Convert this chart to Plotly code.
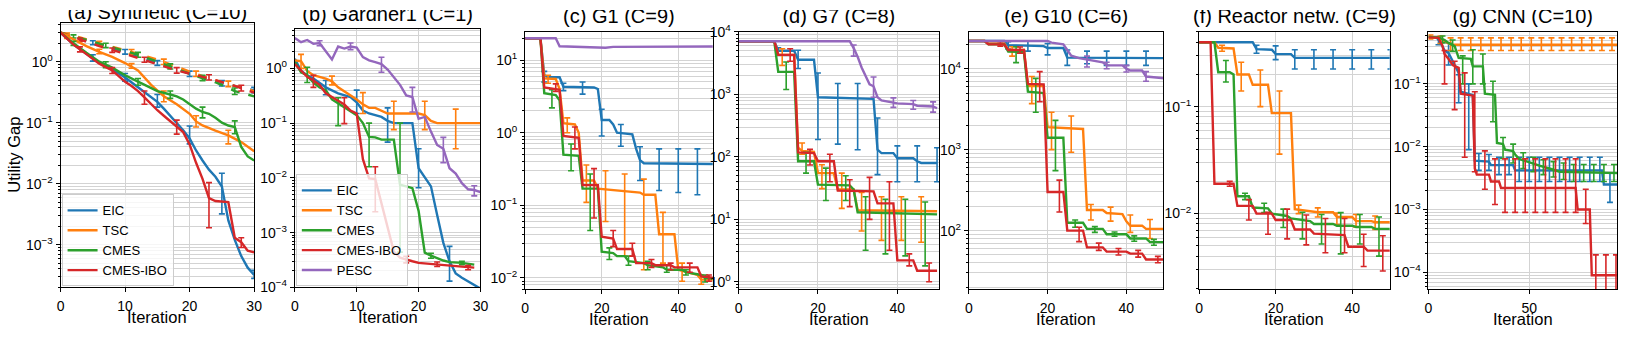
import plotly.graph_objects as go

W, H = 1626, 338
COL = {"EIC": "#1f77b4", "TSC": "#ff7f0e", "CMES": "#2ca02c", "CMES-IBO": "#d62728", "PESC": "#9467bd"}

# ---------------- (a) Synthetic ----------------
A_EIC = [(0,3.0),(2,1.9),(4,1.35),(6,0.95),(8,0.75),(10,0.55),(12,0.38),(14,0.27),(15,0.22),(16,0.17),(18,0.1),(19,0.075),(20,0.055),(21,0.035),(22,0.024),(23,0.017),(24,0.013),(25,0.009),(26,0.0025),(27,0.0012),(28,6.5e-4),(29,4.2e-4),(30,3.2e-4)]
A_EIC_ERR = [(5,1.15,1.02,1.3),(10,0.55,0.48,0.64),(15,0.22,0.18,0.29),(20,0.055,0.045,0.088),(25,0.009,0.0032,0.0148),(30,3.2e-4,2.8e-4,3.8e-4)]
A_TSC = [(0,3.0),(2,2.3),(4,1.8),(6,1.45),(8,1.2),(10,0.95),(12,0.72),(14,0.42),(16,0.27),(18,0.2),(20,0.14),(21,0.105),(22,0.09),(24,0.074),(26,0.062),(28,0.048),(30,0.034)]
A_TSC_ERR = [(1,2.6,2.4,2.8),(6,1.45,1.35,1.6),(11,0.85,0.78,0.93),(16,0.27,0.22,0.33),(21,0.105,0.085,0.13),(26,0.062,0.045,0.075)]
A_CMES = [(0,3.0),(2,2.0),(4,1.4),(6,1.0),(8,0.8),(10,0.6),(12,0.47),(14,0.37),(15,0.33),(17,0.29),(18,0.27),(19,0.24),(20,0.2),(21,0.17),(22,0.15),(23,0.14),(24,0.12),(25,0.1),(26,0.09),(27,0.085),(28,0.04),(29,0.028),(30,0.024)]
A_CMES_ERR = [(2,2.0,1.85,2.15),(7,0.9,0.8,1.0),(12,0.47,0.41,0.53),(17,0.29,0.25,0.33),(22,0.15,0.12,0.18),(27,0.085,0.066,0.107)]
A_IBO = [(0,3.0),(2,1.9),(4,1.33),(6,0.93),(8,0.72),(10,0.47),(11,0.4),(12,0.33),(13,0.26),(14,0.2),(15,0.16),(16,0.13),(17,0.105),(18,0.085),(19,0.07),(20,0.044),(21,0.022),(22,0.012),(23,0.0058),(24,0.0052),(26,0.005),(27,0.0013),(28,0.0011),(29,8e-4),(30,7.5e-4)]
A_IBO_ERR = [(3,1.6,1.45,1.75),(8,0.72,0.64,0.8),(13,0.26,0.2,0.33),(18,0.085,0.065,0.11),(23,0.0058,0.0019,0.0104),(28,0.0011,9e-4,0.0013)]
A_EIC_D = [(0,3.0),(3,2.4),(6,1.9),(9,1.55),(12,1.2),(15,0.95),(18,0.75),(21,0.58),(24,0.47),(27,0.4),(30,0.34)]
A_EIC_D_ERR = [(5,2.05,1.9,2.2),(10,1.45,1.33,1.58),(15,0.95,0.87,1.04),(20,0.63,0.57,0.7),(25,0.44,0.4,0.49),(30,0.34,0.31,0.38)]
A_TSC_D = [(0,3.0),(3,2.5),(6,2.0),(9,1.65),(12,1.35),(15,1.08),(18,0.82),(21,0.63),(24,0.5),(27,0.4),(30,0.33)]
A_TSC_D_ERR = [(1,2.8,2.65,2.95),(6,2.0,1.85,2.15),(11,1.45,1.33,1.58),(16,1.0,0.9,1.1),(21,0.63,0.57,0.7),(26,0.43,0.39,0.48)]
A_CMES_D = [(0,3.0),(3,2.45),(6,1.95),(9,1.6),(12,1.3),(15,1.0),(18,0.76),(21,0.58),(24,0.46),(27,0.33),(30,0.27)]
A_CMES_D_ERR = [(2,2.6,2.45,2.75),(7,1.85,1.7,2.0),(12,1.3,1.18,1.42),(17,0.84,0.76,0.92),(22,0.54,0.49,0.6),(27,0.33,0.29,0.37)]
A_IBO_D = [(0,3.0),(3,2.3),(6,1.8),(9,1.45),(12,1.15),(15,0.9),(18,0.72),(21,0.6),(24,0.5),(27,0.4),(30,0.31)]
A_IBO_D_ERR = [(3,2.3,2.15,2.45),(8,1.55,1.42,1.68),(13,1.08,0.98,1.18),(18,0.72,0.65,0.8),(23,0.55,0.5,0.61),(28,0.37,0.33,0.41)]

# ---------------- (b) Gardner1 ----------------
B_EIC = [(0,1.5),(1,0.9),(2,0.75),(3,0.65),(5,0.45),(7,0.35),(9,0.3),(10,0.24),(11,0.17),(12,0.15),(14,0.13),(15,0.11),(16,0.1),(19,0.1),(20,0.015),(21,0.01),(22,0.007),(23,0.0021),(24,6.5e-4),(25,3e-4),(26,1.8e-4),(27,1.5e-4),(28,1.3e-4),(29,1.1e-4),(30,9.5e-5)]
B_EIC_ERR = [(5,0.45,0.33,0.6),(10,0.24,0.15,0.4),(15,0.11,0.045,0.19),(20,0.015,0.0066,0.034),(25,3e-4,1.3e-4,5.6e-4)]
B_TSC = [(0,1.4),(1,1.35),(2,0.9),(3,0.75),(5,0.65),(6,0.58),(7,0.45),(8,0.38),(9,0.32),(10,0.27),(11,0.22),(12,0.19),(13,0.19),(14,0.17),(15,0.15),(20,0.15),(21,0.14),(22,0.11),(23,0.1),(30,0.1)]
B_TSC_ERR = [(1,1.35,1.0,1.8),(6,0.58,0.5,0.72),(11,0.22,0.15,0.36),(16,0.15,0.076,0.25),(21,0.14,0.076,0.25),(26,0.1,0.034,0.18)]
B_CMES = [(0,1.3),(1,0.85),(2,0.75),(3,0.55),(4,0.45),(5,0.4),(6,0.27),(7,0.23),(8,0.2),(9,0.17),(10,0.14),(11,0.1),(12,0.056),(13,0.055),(14,0.05),(16,0.05),(17,0.0075),(18,0.007),(19,0.0065),(20,0.0025),(21,4.3e-4),(22,3.8e-4),(23,3.4e-4),(24,3.1e-4),(25,2.9e-4),(27,2.8e-4),(29,2.6e-4)]
B_CMES_ERR = [(2,0.75,0.55,1.05),(7,0.23,0.09,0.29),(12,0.056,0.016,0.1),(17,0.0075,4.4e-4,0.1),(22,3.8e-4,3.4e-4,4.2e-4),(27,2.8e-4,2.6e-4,3e-4)]
B_IBO = [(0,1.2),(1,0.9),(2,0.7),(3,0.6),(4,0.5),(5,0.35),(6,0.3),(7,0.26),(8,0.22),(9,0.17),(10,0.15),(11,0.022),(12,0.0098),(13,0.0095),(14,0.0035),(15,0.0012),(16,4.5e-4),(17,3.5e-4),(18,3.2e-4),(19,3e-4),(20,2.8e-4),(22,2.7e-4),(23,2.65e-4),(25,2.5e-4),(27,2.4e-4),(29,2.3e-4)]
B_IBO_ERR = [(3,0.6,0.45,0.75),(8,0.22,0.098,0.29),(13,0.0095,0.0024,0.016),(18,3.2e-4,2.8e-4,3.7e-4),(23,2.65e-4,2.4e-4,2.9e-4),(28,2.3e-4,2.1e-4,2.5e-4)]
B_PESC = [(0,3.6),(1,3.0),(2,3.3),(3,2.8),(4,2.9),(5,2.0),(6,1.45),(7,2.5),(8,2.3),(9,2.5),(10,2.4),(11,1.6),(12,1.4),(13,1.3),(14,1.2),(15,0.95),(16,0.7),(17,0.5),(18,0.32),(19,0.3),(20,0.12),(21,0.13),(22,0.07),(23,0.04),(24,0.034),(25,0.015),(26,0.012),(27,0.008),(28,0.0062),(29,0.006),(30,0.0055)]
B_PESC_ERR = [(4,2.9,2.6,3.2),(9,2.5,2.2,2.9),(14,1.2,0.85,1.6),(19,0.3,0.16,0.45),(24,0.034,0.019,0.055),(29,0.006,0.0047,0.0072)]

# ---------------- (c) G1 ----------------
C_EIC = [(0,20),(4,20),(5,6.2),(6,5.8),(9,5.8),(10,4.3),(18,4.2),(19,4.0),(20,1.5),(22,1.5),(23,1.3),(24,1.0),(28,0.95),(29,0.6),(30,0.42),(31,0.38),(50,0.37)]
C_EIC_ERR = [(5,6.2,5.0,7.0),(10,4.3,3.8,4.8),(15,4.2,3.4,5.0),(20,1.5,0.9,2.1),(25,1.0,0.65,1.3),(30,0.42,0.22,0.64),(35,0.38,0.16,0.6),(40,0.38,0.15,0.6),(45,0.37,0.14,0.6)]
C_TSC = [(0,20),(4,20),(5,5.6),(8,5.5),(9,4.0),(10,1.35),(13,1.3),(14,1.0),(15,0.22),(18,0.22),(19,0.17),(30,0.15),(31,0.14),(34,0.14),(35,0.04),(39,0.04),(40,0.013),(45,0.011),(46,0.0095),(50,0.0095)]
C_TSC_ERR = [(6,5.5,4.8,6.2),(11,1.3,1.0,1.6),(16,0.22,0.11,0.36),(21,0.16,0.06,0.3),(26,0.15,0.02,0.27),(31,0.14,0.013,0.23),(36,0.04,0.016,0.08),(41,0.012,0.009,0.016),(46,0.0095,0.0082,0.011)]
C_CMES = [(0,20),(4,20),(5,3.5),(8,3.3),(9,2.8),(10,0.5),(14,0.48),(15,0.17),(19,0.17),(20,0.023),(23,0.022),(24,0.02),(26,0.02),(27,0.017),(31,0.016),(32,0.015),(36,0.014),(37,0.013),(41,0.013),(42,0.012),(46,0.011),(47,0.01),(50,0.0098)]
C_CMES_ERR = [(7,3.3,2.2,3.9),(12,0.48,0.3,0.7),(17,0.17,0.045,0.27),(22,0.022,0.018,0.026),(27,0.017,0.015,0.02),(32,0.015,0.013,0.017),(37,0.013,0.012,0.015),(42,0.012,0.011,0.013),(47,0.01,0.0088,0.011)]
C_IBO = [(0,20),(4,20),(5,4.2),(8,4.0),(9,3.9),(10,0.9),(14,0.85),(15,0.19),(19,0.19),(20,0.037),(23,0.035),(24,0.025),(28,0.025),(29,0.016),(33,0.016),(34,0.015),(38,0.015),(39,0.014),(45,0.014),(46,0.0105),(50,0.01)]
C_IBO_ERR = [(8,4.0,3.7,4.7),(13,0.9,0.6,1.2),(18,0.19,0.067,0.32),(23,0.035,0.027,0.045),(28,0.025,0.02,0.03),(33,0.016,0.014,0.018),(38,0.015,0.013,0.016),(43,0.014,0.012,0.016),(48,0.01,0.009,0.011)]
C_PESC = [(0,20),(8,20),(9,15.5),(19,15.2),(21,14.8),(23,15.2),(50,15.4)]
C_PESC_ERR = []

# ---------------- (d) G7 ----------------
D_EIC = [(0,7100),(9,7100),(10,5000),(14,5000),(15,3600),(19,3600),(20,900),(34,850),(35,130),(36,115),(39,115),(40,95),(44,95),(45,85),(46,80),(50,80)]
D_EIC_ERR = [(10,5000,4300,5600),(15,3600,2600,5100),(20,900,190,2200),(25,850,160,1500),(30,850,130,1500),(35,130,52,420),(40,95,40,150),(45,85,40,150),(50,80,40,140)]
D_TSC = [(0,7100),(9,7100),(10,4300),(14,4300),(15,140),(16,125),(19,120),(20,55),(24,55),(25,30),(29,30),(30,14),(50,13.5)]
D_TSC_ERR = [(11,4300,2900,5400),(16,125,110,167),(21,55,31,75),(26,30,15,55),(31,14,6.5,27),(36,14,4.6,23),(41,14,4.6,23),(46,14,4.3,23)]
D_CMES = [(0,7100),(9,7100),(10,2300),(14,2300),(15,85),(19,85),(20,36),(28,35),(29,30),(30,13),(50,12)]
D_CMES_ERR = [(12,2300,1200,3300),(17,85,55,118),(22,36,20,66),(27,35,20,50),(32,13,3.2,23),(37,12.5,2.8,21),(42,12.5,2.6,21),(47,12,1.8,19)]
D_IBO = [(0,7100),(9,7100),(10,4300),(14,4300),(15,118),(19,115),(20,85),(24,85),(25,29),(34,28),(35,18),(39,18),(40,2.2),(44,2.2),(45,1.5),(50,1.5)]
D_IBO_ERR = [(13,4300,3400,5400),(18,115,74,132),(23,85,40,110),(28,28,16,43),(33,28,10,47),(38,18,3.2,40),(43,2.2,1.8,2.8),(48,1.5,1.0,2.0)]
D_PESC = [(0,7100),(28,7100),(29,5500),(30,4000),(31,2700),(32,2000),(33,1450),(34,1350),(35,900),(36,800),(39,750),(40,720),(44,700),(45,660),(49,640),(50,600)]
D_PESC_ERR = [(29,5500,4100,6200),(34,1350,900,1900),(39,750,620,880),(44,700,580,800),(49,640,520,760)]

# ---------------- (e) G10 ----------------
E_EIC = [(0,22000),(9,22000),(10,19500),(19,19000),(20,18000),(24,18000),(25,13700),(50,13500)]
E_EIC_ERR = [(10,19500,17500,21500),(15,19000,16500,22000),(20,18000,14800,20500),(25,13700,11000,17000),(30,13700,11500,16500),(35,13700,11000,16500),(40,13700,11000,16500),(45,13700,11000,16500)]
E_TSC = [(0,22000),(4,22000),(5,20500),(9,20500),(10,17000),(14,17000),(15,6100),(19,6100),(20,1900),(29,1800),(30,180),(34,180),(35,165),(39,160),(40,130),(41,115),(44,115),(45,105),(50,105)]
E_TSC_ERR = [(11,17000,14300,18700),(16,6100,3700,8000),(21,1900,1000,2900),(26,1800,930,2600),(31,180,135,210),(36,165,131,195),(41,115,95,156),(46,105,80,137)]
E_CMES = [(0,22000),(4,22000),(5,20000),(9,20000),(10,16300),(14,16000),(15,5200),(19,5000),(20,1400),(24,1400),(25,125),(29,125),(30,105),(34,105),(35,90),(40,90),(41,80),(45,80),(46,72),(50,72)]
E_CMES_ERR = [(12,16000,11900,18700),(17,5200,2900,7600),(22,1400,550,2300),(27,125,110,135),(32,105,95,112),(37,90,85,96),(42,80,74,86),(47,72,66,78)]
E_IBO = [(0,22000),(4,22000),(5,20000),(9,20000),(10,17000),(14,17000),(15,6500),(19,6400),(20,300),(24,300),(25,100),(29,100),(30,62),(34,62),(35,55),(40,55),(41,52),(44,52),(45,44),(50,44)]
E_IBO_ERR = [(8,20000,19000,21500),(13,17000,15500,18500),(18,6500,3900,9200),(23,300,170,420),(28,100,73,110),(33,62,57,70),(38,55,50,60),(43,52,47,57),(48,44,40,48)]
E_PESC = [(0,22000),(20,22000),(21,21000),(24,20000),(25,17000),(26,14500),(28,13500),(30,13000),(34,12000),(35,11000),(39,11000),(40,10000),(41,9500),(44,9500),(45,8000),(50,7600)]
E_PESC_ERR = [(30,13000,10500,14300),(35,11000,10000,12000),(40,10000,9100,11000),(45,8000,7000,9200)]

# ---------------- (f) Reactor netw. ----------------
F_EIC = [(0,0.4),(14,0.4),(15,0.345),(19,0.34),(20,0.31),(24,0.31),(25,0.286),(50,0.286)]
F_EIC_ERR = [(15,0.345,0.316,0.375),(20,0.31,0.275,0.37),(25,0.286,0.225,0.34),(30,0.286,0.225,0.34),(35,0.286,0.225,0.34),(40,0.286,0.225,0.34),(45,0.286,0.225,0.34),(50,0.286,0.225,0.34)]
F_TSC = [(0,0.4),(4,0.4),(5,0.355),(9,0.35),(10,0.2),(13,0.2),(14,0.16),(18,0.16),(19,0.087),(24,0.087),(25,0.011),(30,0.0105),(31,0.0103),(35,0.0103),(36,0.0093),(40,0.0093),(41,0.0085),(45,0.0085),(46,0.0083),(50,0.0083)]
F_TSC_ERR = [(6,0.355,0.33,0.375),(11,0.2,0.14,0.26),(16,0.16,0.1,0.22),(21,0.087,0.036,0.14),(26,0.011,0.01,0.012),(31,0.0103,0.0093,0.0113),(36,0.0093,0.0079,0.0101),(41,0.0085,0.0075,0.0098),(46,0.0083,0.0071,0.0095)]
F_CMES = [(0,0.4),(4,0.4),(5,0.21),(8,0.21),(9,0.2),(10,0.0145),(13,0.0145),(14,0.0114),(18,0.0112),(19,0.01),(23,0.0095),(24,0.009),(29,0.0085),(30,0.008),(35,0.008),(36,0.0077),(40,0.0077),(41,0.0075),(45,0.0075),(46,0.0072),(50,0.0072)]
F_CMES_ERR = [(7,0.21,0.17,0.27),(12,0.0145,0.0135,0.0155),(17,0.0112,0.0102,0.0125),(22,0.0095,0.0074,0.011),(27,0.0085,0.0058,0.0103),(32,0.008,0.0052,0.0098),(37,0.0077,0.0042,0.0102),(42,0.0075,0.0052,0.0098),(47,0.0072,0.004,0.0093)]
F_IBO = [(0,0.4),(3,0.4),(4,0.019),(9,0.019),(10,0.0118),(14,0.0118),(15,0.01),(19,0.01),(20,0.0087),(24,0.0087),(25,0.0071),(29,0.0071),(30,0.0065),(38,0.0063),(39,0.0049),(43,0.0049),(44,0.0045),(50,0.0045)]
F_IBO_ERR = [(8,0.019,0.018,0.02),(13,0.0118,0.0087,0.0135),(18,0.01,0.0064,0.0103),(23,0.0087,0.0058,0.011),(28,0.0071,0.0051,0.0097),(33,0.0065,0.0043,0.009),(38,0.0063,0.0043,0.009),(43,0.0049,0.0032,0.0064),(48,0.0045,0.0029,0.0062)]

# ---------------- (g) CNN ----------------
G_EIC = [(0,0.56),(4,0.55),(6,0.46),(8,0.34),(10,0.31),(12,0.23),(15,0.15),(16,0.075),(22,0.066),(23,0.006),(30,0.0058),(31,0.0051),(42,0.0051),(43,0.0042),(86,0.0042),(87,0.0025),(94,0.0025)]
G_EIC_ERR = [(5,0.5,0.42,0.56),(10,0.31,0.2,0.45),(15,0.15,0.05,0.14),(20,0.066,0.009,0.1),(25,0.0058,0.0042,0.0078),(30,0.0058,0.0042,0.0075),(35,0.0051,0.0036,0.0068),(40,0.0051,0.0036,0.0068),(45,0.0042,0.0028,0.0068),(50,0.0042,0.0028,0.0068),(55,0.0042,0.0028,0.0068),(60,0.0042,0.0028,0.0068),(65,0.0042,0.0028,0.0068),(70,0.0042,0.0028,0.0068),(75,0.0042,0.0028,0.0068),(80,0.0042,0.0028,0.0068),(85,0.0042,0.0028,0.0068),(90,0.0025,0.0013,0.0038)]
G_TSC = [(0,0.55),(5,0.55),(8,0.48),(10,0.44),(12,0.42),(94,0.42)]
G_TSC_ERR = [(1,0.56,0.52,0.6),(6,0.52,0.44,0.58)] + [(t,0.42,0.34,0.54) for t in (11,16,21,26,31,36,41,46,51,56,61,66,71,76,81,86,91)]
G_CMES = [(0,0.56),(5,0.55),(8,0.5),(10,0.45),(13,0.4),(15,0.26),(21,0.25),(22,0.19),(27,0.19),(28,0.07),(33,0.067),(34,0.0115),(37,0.011),(38,0.009),(42,0.0085),(43,0.0075),(45,0.0064),(50,0.0056),(55,0.005),(60,0.0045),(65,0.004),(94,0.0038)]
G_CMES_ERR = [(7,0.52,0.45,0.58),(12,0.42,0.33,0.5),(17,0.25,0.1,0.28),(22,0.19,0.1,0.35),(27,0.19,0.1,0.3),(32,0.067,0.025,0.11),(37,0.011,0.0065,0.014),(42,0.0085,0.0055,0.011),(47,0.006,0.0045,0.008),(52,0.0053,0.004,0.0068),(57,0.0048,0.0036,0.0062),(62,0.0043,0.0033,0.0058),(67,0.004,0.003,0.0055),(72,0.0038,0.0028,0.0052),(77,0.0038,0.0028,0.0052),(82,0.0038,0.0028,0.0052),(87,0.0038,0.0028,0.0052),(92,0.0038,0.0028,0.0052)]
G_IBO = [(0,0.55),(5,0.54),(7,0.4),(8,0.3),(10,0.25),(12,0.2),(15,0.18),(16,0.07),(22,0.065),(23,0.0045),(24,0.0036),(30,0.0036),(31,0.0028),(35,0.0028),(36,0.0022),(73,0.0022),(74,0.001),(80,0.001),(81,9e-5),(94,9e-5)]
G_IBO_ERR = [(8,0.3,0.1,0.34),(13,0.19,0.039,0.23),(18,0.065,0.0068,0.15),(23,0.0045,0.004,0.075),(28,0.0036,0.0021,0.0086),(33,0.0028,0.0012,0.0064)] + [(t,0.0022,9e-4,0.0064) for t in (38,43,48,53,58,63,68,73)] + [(78,0.001,6e-4,0.0021),(83,9e-5,4.5e-5,1.9e-4),(88,9e-5,4.5e-5,1.9e-4),(93,9e-5,4.5e-5,1.9e-4)]

TITLES = ["(a) Synthetic (C=10)", "(b) Gardner1 (C=1)", "(c) G1 (C=9)", "(d) G7 (C=8)",
          "(e) G10 (C=6)", "(f) Reactor netw. (C=9)", "(g) CNN (C=10)"]
TITLE_Y = [4, 6.5, 8, 8, 8, 8, 8]       # title text centre, px from top (titles are cropped at the top in the source)
XLABEL_Y = [324, 324, 326, 326, 326, 326, 326]

PANELS = [
    dict(px=(57, 252), py=(14, 293), xr=[0, 30], yr=[-3.7, 0.63], xt=[0, 10, 20, 30], yt=[-3, -2, -1, 0],
         series=[("EIC", A_EIC_D, A_EIC_D_ERR, "dash", False), ("TSC", A_TSC_D, A_TSC_D_ERR, "dash", False),
                 ("CMES", A_CMES_D, A_CMES_D_ERR, "dash", False), ("CMES-IBO", A_IBO_D, A_IBO_D_ERR, "dash", False),
                 ("EIC", A_EIC, A_EIC_ERR, "solid", True), ("TSC", A_TSC, A_TSC_ERR, "solid", True),
                 ("CMES", A_CMES, A_CMES_ERR, "solid", True), ("CMES-IBO", A_IBO, A_IBO_ERR, "solid", True)],
         legend="legend"),
    dict(px=(293, 480), py=(20, 293), xr=[0, 30], yr=[-4, 0.72], xt=[0, 10, 20, 30], yt=[-4, -3, -2, -1, 0],
         series=[("EIC", B_EIC, B_EIC_ERR, "solid", True), ("TSC", B_TSC, B_TSC_ERR, "solid", True),
                 ("CMES", B_CMES, B_CMES_ERR, "solid", True), ("CMES-IBO", B_IBO, B_IBO_ERR, "solid", True),
                 ("PESC", B_PESC, B_PESC_ERR, "solid", True)],
         legend="legend2"),
    dict(px=(525, 714), py=(23, 295), xr=[0, 49], yr=[-2.156, 1.39], xt=[0, 20, 40], yt=[-2, -1, 0, 1],
         series=[("EIC", C_EIC, C_EIC_ERR, "solid", False), ("TSC", C_TSC, C_TSC_ERR, "solid", False),
                 ("CMES", C_CMES, C_CMES_ERR, "solid", False), ("CMES-IBO", C_IBO, C_IBO_ERR, "solid", False),
                 ("PESC", C_PESC, C_PESC_ERR, "solid", False)]),
    dict(px=(740, 942), py=(23, 295), xr=[0, 50.5], yr=[-0.12, 4.003], xt=[0, 20, 40], yt=[0, 1, 2, 3, 4],
         series=[("EIC", D_EIC, D_EIC_ERR, "solid", False), ("TSC", D_TSC, D_TSC_ERR, "solid", False),
                 ("CMES", D_CMES, D_CMES_ERR, "solid", False), ("CMES-IBO", D_IBO, D_IBO_ERR, "solid", False),
                 ("PESC", D_PESC, D_PESC_ERR, "solid", False)]),
    dict(px=(972, 1168), py=(23, 295), xr=[0, 49.4], yr=[1.275, 4.456], xt=[0, 20, 40], yt=[2, 3, 4],
         series=[("EIC", E_EIC, E_EIC_ERR, "solid", False), ("TSC", E_TSC, E_TSC_ERR, "solid", False),
                 ("CMES", E_CMES, E_CMES_ERR, "solid", False), ("CMES-IBO", E_IBO, E_IBO_ERR, "solid", False),
                 ("PESC", E_PESC, E_PESC_ERR, "solid", False)]),
    dict(px=(1204, 1396), py=(23, 295), xr=[0, 49.8], yr=[-2.708, -0.3], xt=[0, 20, 40], yt=[-2, -1],
         series=[("EIC", F_EIC, F_EIC_ERR, "solid", False), ("TSC", F_TSC, F_TSC_ERR, "solid", False),
                 ("CMES", F_CMES, F_CMES_ERR, "solid", False), ("CMES-IBO", F_IBO, F_IBO_ERR, "solid", False)]),
    dict(px=(1435, 1625), py=(23, 295), xr=[0, 93.5], yr=[-4.27, -0.17], xt=[0, 50], yt=[-4, -3, -2, -1],
         series=[("EIC", G_EIC, G_EIC_ERR, "solid", False), ("TSC", G_TSC, G_TSC_ERR, "solid", False),
                 ("CMES", G_CMES, G_CMES_ERR, "solid", False), ("CMES-IBO", G_IBO, G_IBO_ERR, "solid", False)]),
]

FONT = "Liberation Sans, Arial, sans-serif"
GRID = "#d3d3d3"


def exp_label(p):
    return "10<sup>%s%d</sup>" % ("\u2212" if p < 0 else "", abs(p))


fig = go.Figure()
layout = {}
annotations = []

# Panel titles: drawn first on a full-figure pixel overlay so they can be cropped by the top edge like the source
fig.add_trace(go.Scatter(
    x=[(P["px"][0] + P["px"][1]) / 2 for P in PANELS], y=TITLE_Y, text=TITLES, mode="text",
    textposition="middle center", textfont=dict(size=20, family=FONT, color="black"),
    xaxis="x8", yaxis="y8", showlegend=False, hoverinfo="skip", cliponaxis=True))
layout["xaxis8"] = dict(domain=[0, 1], range=[0, W], visible=False, anchor="y8", fixedrange=True)
layout["yaxis8"] = dict(domain=[0, 1], range=[H, 0], visible=False, anchor="x8", fixedrange=True)

for i, P in enumerate(PANELS):
    n = "" if i == 0 else str(i + 1)
    xa, ya = "x" + n, "y" + n
    l, r = P["px"]
    t, b = P["py"]
    lo_d, hi_d = int(P["yr"][0]) - 1, int(P["yr"][1]) + 1
    minor_vals = [k * 10.0 ** d for d in range(lo_d, hi_d + 1) for k in range(2, 10)]
    layout["xaxis" + n] = dict(
        domain=[l / W, r / W], anchor=ya, range=P["xr"], tickvals=P["xt"],
        showgrid=True, gridcolor=GRID, gridwidth=1, zeroline=False,
        showline=True, linecolor="black", linewidth=1, mirror=True,
        ticks="outside", ticklen=4, tickcolor="black", ticklabelstandoff=2,
        tickfont=dict(size=14, family=FONT, color="black"))
    layout["yaxis" + n] = dict(
        domain=[1 - b / H, 1 - t / H], anchor=xa, type="log", range=P["yr"],
        tickvals=[10.0 ** p for p in P["yt"]], ticktext=[exp_label(p) for p in P["yt"]],
        showgrid=True, gridcolor=GRID, gridwidth=1, zeroline=False,
        showline=True, linecolor="black", linewidth=1, mirror=True,
        ticks="outside", ticklen=4, tickcolor="black",
        tickfont=dict(size=14, family=FONT, color="black"),
        minor=dict(tickmode="array", tickvals=minor_vals, showgrid=True, gridcolor=GRID,
                   gridwidth=1, ticks="outside", ticklen=2, tickcolor="black"))
    annotations.append(dict(text="Iteration", xref="paper", yref="paper", x=(l + r) / 2 / W,
                            y=1 - XLABEL_Y[i] / H, xanchor="center", yanchor="middle",
                            showarrow=False, font=dict(size=16.5, family=FONT, color="black")))
    for name, pts, errs, dash, show in P["series"]:
        c = COL[name]
        fig.add_trace(go.Scatter(
            x=[p[0] for p in pts], y=[p[1] for p in pts], mode="lines", name=name,
            line=dict(color=c, width=2.4, dash=dash), xaxis=xa, yaxis=ya,
            showlegend=show, legend=P.get("legend", "legend"), hoverinfo="skip"))
        if errs:
            fig.add_trace(go.Scatter(
                x=[e[0] for e in errs], y=[e[1] for e in errs], mode="markers",
                marker=dict(size=1, color=c, opacity=0), xaxis=xa, yaxis=ya, showlegend=False,
                error_y=dict(type="data", symmetric=False,
                             array=[e[3] - e[1] for e in errs],
                             arrayminus=[e[1] - e[2] for e in errs],
                             color=c, thickness=1.6, width=3),
                hoverinfo="skip"))

annotations.append(dict(text="Utility Gap", xref="paper", yref="paper", x=10 / W, y=1 - 153 / H,
                        xanchor="center", yanchor="middle", textangle=-90, showarrow=False,
                        font=dict(size=16.5, family=FONT, color="black")))

leg_common = dict(bgcolor="rgba(255,255,255,0.8)", bordercolor="#cccccc", borderwidth=1,
                  font=dict(size=13, family=FONT, color="black"), xanchor="left", yanchor="bottom",
                  tracegroupgap=0, itemwidth=30)
layout["legend"] = dict(x=58 / W, y=1 - 292 / H, **leg_common)
layout["legend2"] = dict(x=294 / W, y=1 - 292 / H, **leg_common)

fig.update_layout(**layout)
fig.update_layout(width=W, height=H, margin=dict(l=0, r=0, t=0, b=0),
                  paper_bgcolor="white", plot_bgcolor="rgba(0,0,0,0)", annotations=annotations,
                  font=dict(family=FONT, color="black"))
fig.write_html("out.html", config={"displayModeBar": False},
               post_script="document.body.style.margin='0';document.body.style.overflow='hidden';")
